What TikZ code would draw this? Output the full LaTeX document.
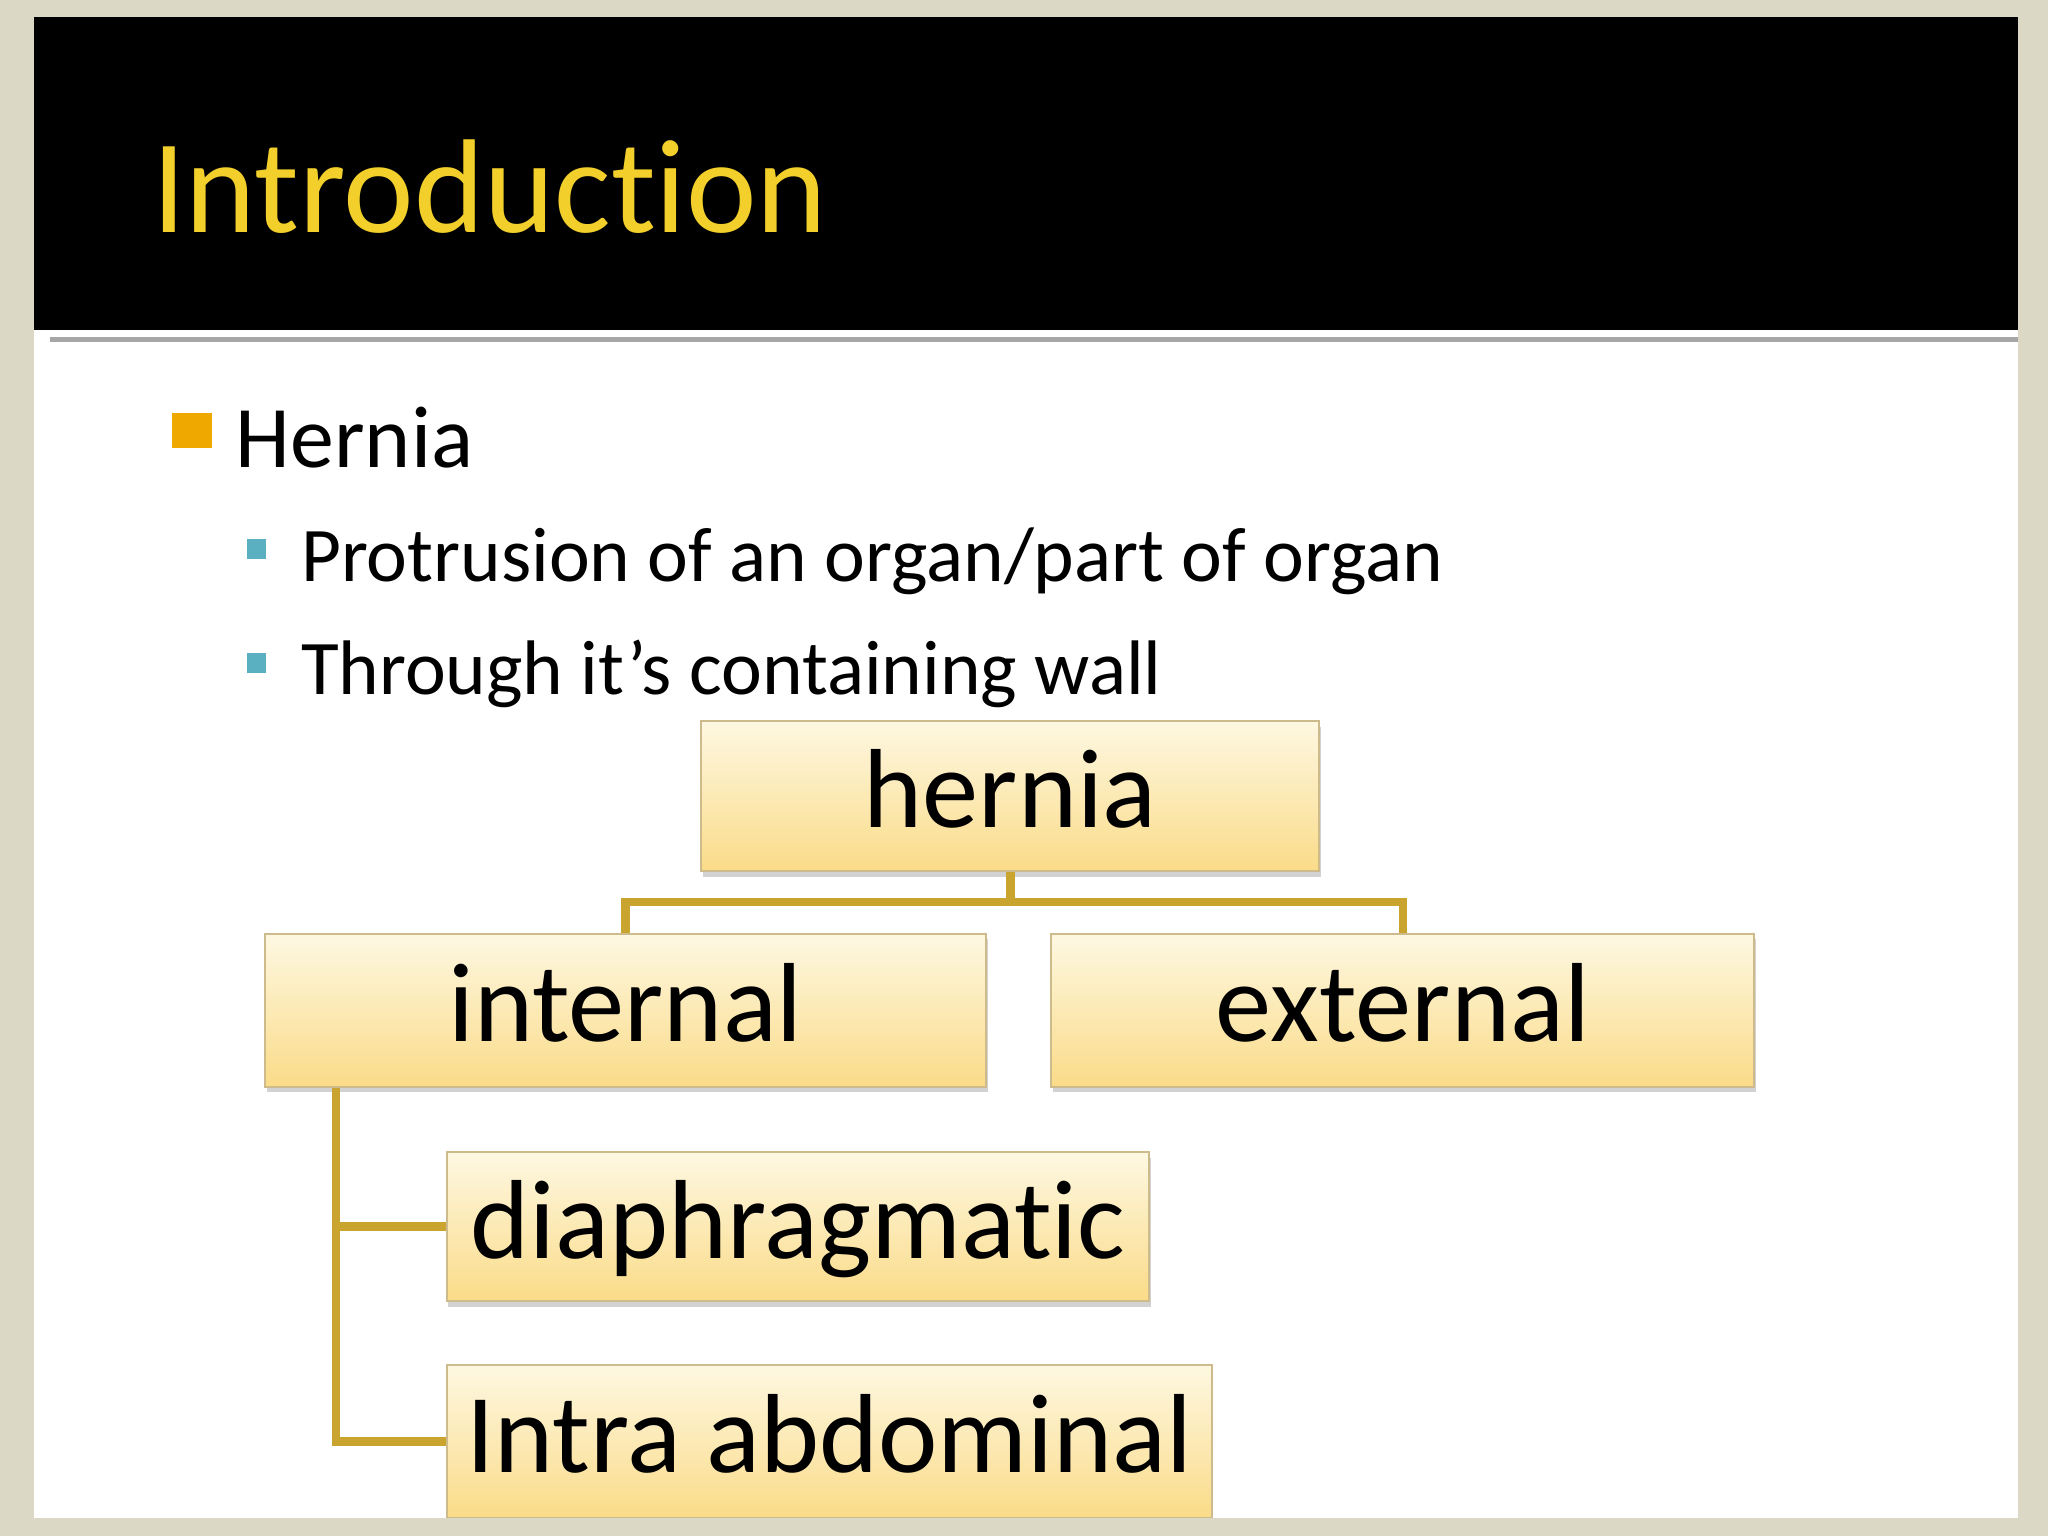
\documentclass[tikz,border=0pt]{standalone}
\usepackage{fontspec}
\setmainfont{Carlito}[Ligatures={TeX,NoCommon}]
\usetikzlibrary{positioning,shadows}

\definecolor{framebeige}{HTML}{DBD9C5}
\definecolor{titleyellow}{HTML}{F2CF2A}
\definecolor{bulletorange}{HTML}{EFA800}
\definecolor{bulletteal}{HTML}{5AAFC0}
\definecolor{linkgold}{HTML}{C9A530}
\definecolor{boxtop}{HTML}{FEF8E2}
\definecolor{boxbottom}{HTML}{FADB88}
\definecolor{boxedge}{HTML}{CDBB8C}

\newcommand{\pxu}{0.01306cm}

\tikzset{
  boxnode/.style={rectangle, draw=boxedge, line width=0.6pt,
    top color=boxtop, bottom color=boxbottom,
    drop shadow={shadow xshift=0.4pt, shadow yshift=-1.6pt, opacity=0.35},
    inner sep=0pt, font=\fontsize{32}{38}\selectfont,
    text height=25pt, text depth=7pt},
  link/.style={linkgold, line width=2.4pt},
  bodytext/.style={anchor=base west, inner sep=0pt}
}

\begin{document}
\begin{tikzpicture}[x=\pxu, y=-\pxu]
\useasboundingbox (0,0) rectangle (1568,1176);

% draw slide and header
\fill[framebeige] (0,0) rectangle (1568,1176);
\fill[white] (26,13) rectangle (1545,1162);
\fill[black] (26,13) rectangle (1545,253);
\draw[gray!70, line width=1.2pt] (38,260) -- (1545,260);

\node[bodytext, text=titleyellow, font=\fontsize{38}{44}\selectfont]
  (title) at (116,178) {Introduction};

% draw bullets
\fill[bulletorange] (132,316) rectangle (162,343);
\node[bodytext, font=\fontsize{25}{30}\selectfont] (hernialine) at (180,358) {Hernia};

\foreach \y/\descr/\name in {445/{Protrusion of an organ/part of organ}/first,
                             532/{Through it's containing wall}/second}
{
\fill[bulletteal] (189,\y-32) rectangle (204,\y-17);
\node[bodytext, font=\fontsize{22}{26}\selectfont] (\name) at (230,\y) {\descr};
}

% draw boxes
\node[boxnode, minimum width=473*\pxu, minimum height=115*\pxu] (hernia) at (773.5,609.5) {hernia};
\node[boxnode, minimum width=552*\pxu, minimum height=117*\pxu] (internal) at (479,773.5) {internal};
\node[boxnode, minimum width=538*\pxu, minimum height=117*\pxu] (external) at (1074,773.5) {external};
\node[boxnode, minimum width=538*\pxu, minimum height=114*\pxu] (diaph) at (611,939) {diaphragmatic};
\node[boxnode, minimum width=586*\pxu, minimum height=117*\pxu] (intra) at (635,1103.5) {Intra abdominal};

% draw connectors
\draw[link] (hernia.south) -- ++(0,23) -| (internal.north);
\draw[link] (hernia.south) -- ++(0,23) -| (external.north);

\coordinate (trunk) at ([xshift=55*\pxu]internal.south west);
\draw[link] (trunk) |- (diaph.west);
\draw[link] (trunk) |- (intra.west);

% bottom edge of frame
\fill[framebeige] (0,1162) rectangle (1568,1176);
\end{tikzpicture}
\end{document}
